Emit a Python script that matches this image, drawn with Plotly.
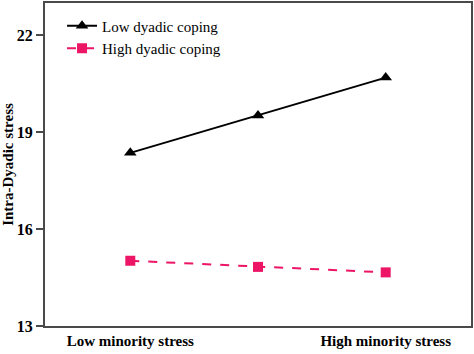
import plotly.graph_objects as go

x_pos = [0, 1, 2]
x_tick_vals = [0, 2]
x_tick_text = ["Low minority stress", "High minority stress"]
low_coping = [18.36, 19.52, 20.69]
high_coping = [15.02, 14.83, 14.66]
y_ticks = [13, 16, 19, 22]

pink = "#ec1566"
fig = go.Figure()
fig.add_trace(go.Scatter(x=x_pos, y=low_coping, mode="lines+markers", name="Low dyadic coping",
                         line=dict(color="black", width=2),
                         marker=dict(symbol="triangle-up", size=11, color="black")))
fig.add_trace(go.Scatter(x=x_pos, y=high_coping, mode="lines+markers", name="High dyadic coping",
                         line=dict(color=pink, width=2, dash="dash"),
                         marker=dict(symbol="square", size=10, color=pink)))

axis_font = dict(family="Liberation Serif", size=16, color="black")
fig.update_layout(
    width=474, height=354,
    margin=dict(l=45, r=1, t=1, b=28),
    paper_bgcolor="white", plot_bgcolor="white",
    showlegend=True,
    legend=dict(x=0.04, y=0.98, xanchor="left", yanchor="top", bgcolor="rgba(0,0,0,0)",
                font=dict(family="Liberation Serif", size=15, color="black"),
                itemwidth=30, tracegroupgap=2),
    xaxis=dict(range=[-0.668, 2.668], tickvals=x_tick_vals, ticktext=[f"<b>{t}</b>" for t in x_tick_text],
               showline=True, linecolor="#4a4a4a", linewidth=2, mirror=True, showgrid=False, zeroline=False,
               ticks="", tickfont=dict(family="Liberation Serif", size=15, color="black")),
    yaxis=dict(range=[13, 23.0], tickvals=y_ticks, ticktext=[f"<b>{v}</b>" for v in y_ticks],
               showline=True, linecolor="#4a4a4a", linewidth=2, mirror=True, showgrid=False, zeroline=False,
               ticks="outside", ticklen=7, tickcolor="#4a4a4a", tickwidth=1.5, tickfont=axis_font,
               title=dict(text="<b>Intra-Dyadic stress</b>", font=dict(family="Liberation Serif", size=15, color="black"), standoff=3)),
)
fig.write_html("out.html")
